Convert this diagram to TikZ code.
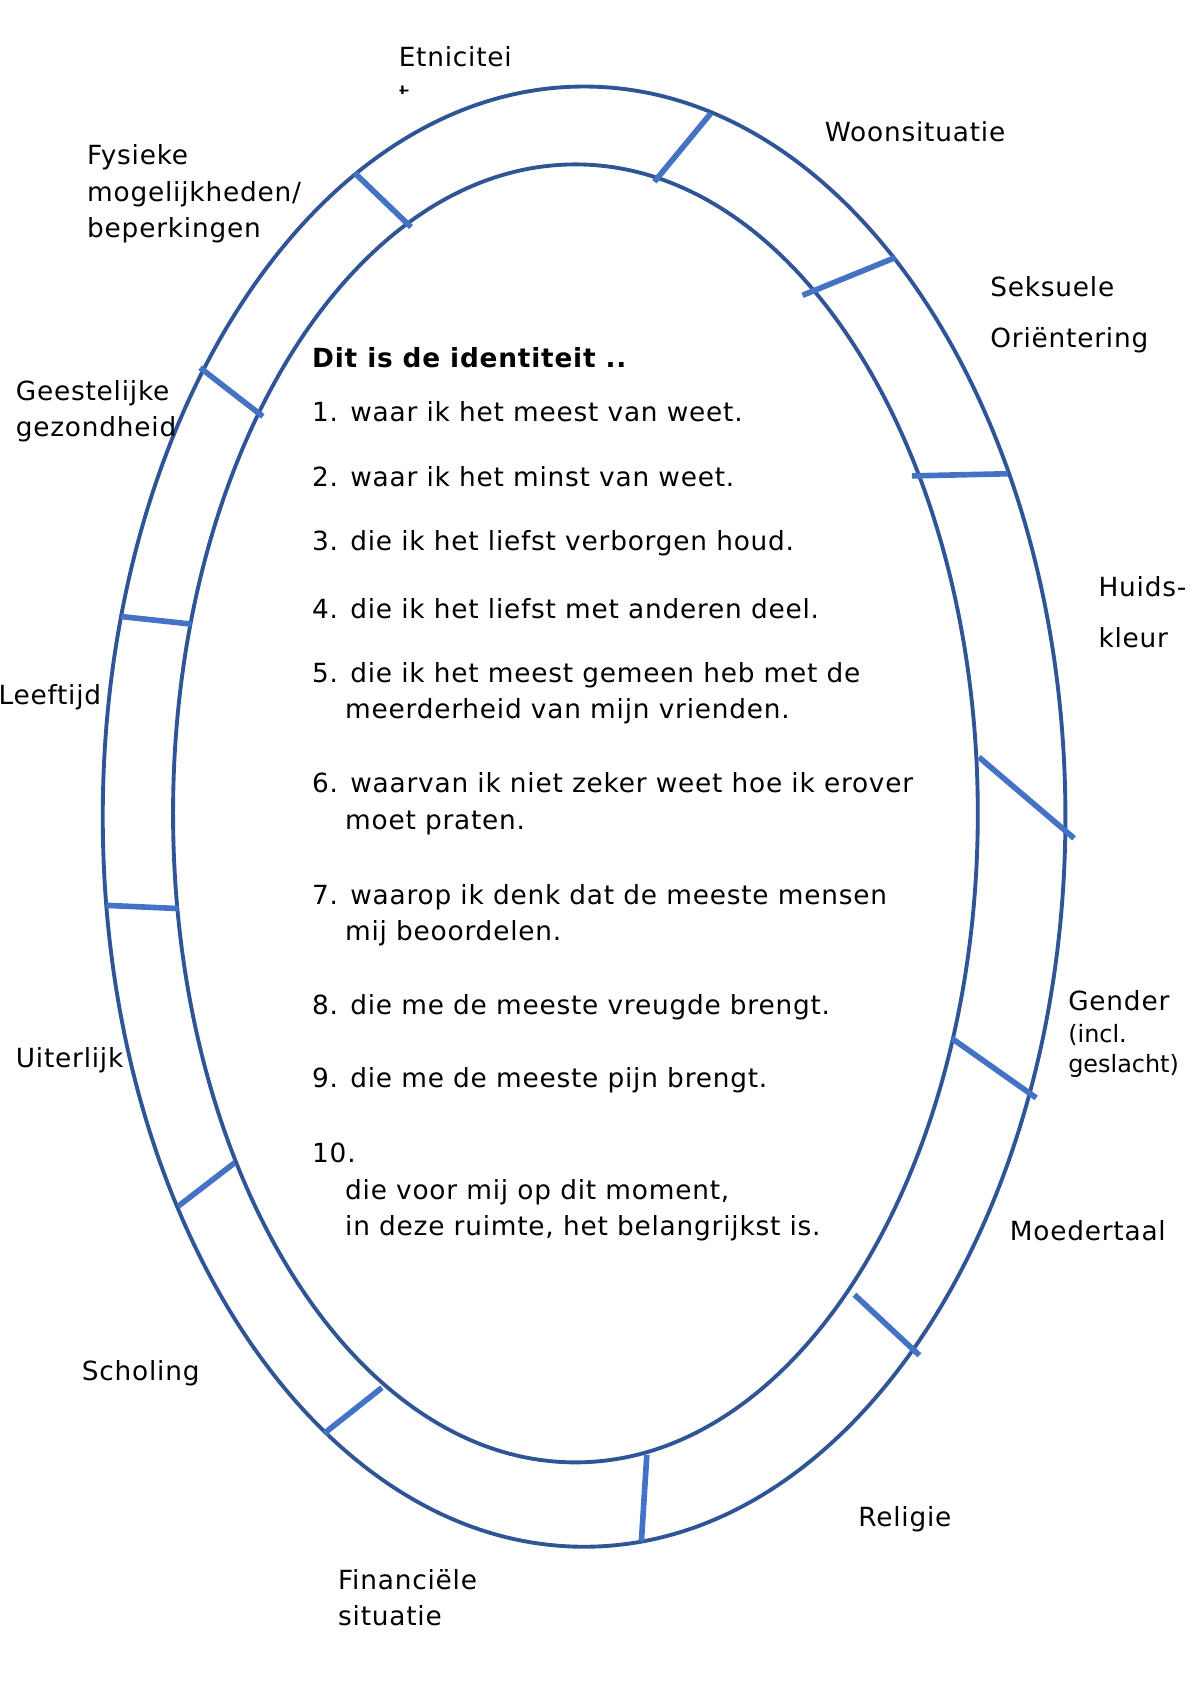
\documentclass[tikz,border=0pt]{standalone}
\usepackage{fontspec}
\setmainfont{DejaVu Sans}[LetterSpace=3]
\definecolor{ringblue}{HTML}{2F5597}
\definecolor{tickblue}{HTML}{4472C4}
\tikzset{
  ring/.style={draw=ringblue, line width=1.1pt},
  tick/.style={draw=tickblue, line width=1.6pt},
  lbl/.style={anchor=west, inner sep=0pt, font=\fontsize{7.5}{10.4}\selectfont},
  item/.style={anchor=west, inner sep=0pt, align=left, font=\fontsize{7.5}{10.4}\selectfont}
}
\begin{document}
\begin{tikzpicture}[x=0.01082cm, y=-0.01082cm]
\useasboundingbox (0,0) rectangle (1109,1568);
% rings
\draw[ring] (540,755) ellipse [x radius=445, y radius=675];
\draw[ring] (532,752) ellipse [x radius=372, y radius=600];
% dividers
\foreach \a/\b/\c/\d in {605/168/657/105, 742/273/828/238, 843/440/932/438,
  905/700/993/775, 880/960/958/1015, 790/1197/850/1253, 598/1345/593/1425,
  353/1283/300/1325, 217/1075/165/1115, 165/840/98/837, 177/577/112/570,
  243/385/185/340, 380/210/328/160}
  \draw[tick] (\a,\b) -- (\c,\d);
% outer labels
\node[lbl] (etn) at (368,52) {Etnicitei};
\begin{scope}
\clip (360,76) rectangle (390,86);
\node[lbl] (etnt) at (368,88) {t};
\end{scope}
\node[lbl] (woon) at (762,122) {Woonsituatie};
\node[lbl] (seks) at (915,265) {Seksuele};
\node[lbl] (orie) at (915,315) {Oriëntering};
\node[lbl] (huid) at (1015,542) {Huids-};
\node[lbl] (kleur) at (1015,590) {kleur};
\node[lbl] (gend) at (987,925) {Gender};
\node[lbl, font=\fontsize{6.8}{8.6}\selectfont\addfontfeature{LetterSpace=0}, align=left, anchor=north west] (incl) at (987,946) {(incl.\\geslacht)};
\node[lbl] (moed) at (933,1138) {Moedertaal};
\node[lbl] (reli) at (793,1405) {Religie};
\node[lbl, align=left, anchor=north west] (fin) at (312,1450) {Financiële\\situatie};
\node[lbl] (schol) at (75,1270) {Scholing};
\node[lbl] (uit) at (14,980) {Uiterlijk};
\node[lbl] (leef) at (-2,645) {Leeftijd};
\node[lbl, align=left, anchor=north west] (gees) at (14,351) {Geestelijke\\gezondheid};
\node[lbl, align=left, anchor=north west] (fys) at (80,133) {Fysieke\\mogelijkheden/\\beperkingen};
% inner list
\node[item, font=\bfseries\fontsize{7.5}{10.4}\selectfont] (titel) at (288,331) {Dit is de identiteit ..};
\node[item] (i1) at (288,381) {1. waar ik het meest van weet.};
\node[item] (i2) at (288,441) {2. waar ik het minst van weet.};
\node[item] (i3) at (288,502) {3. die ik het liefst verborgen houd.};
\node[item] (i4) at (288,563) {4. die ik het liefst met anderen deel.};
\node[item] (i5) at (288,641) {5. die ik het meest gemeen heb met de\\\hspace*{1.25em}meerderheid van mijn vrienden.};
\node[item] (i6) at (288,743) {6. waarvan ik niet zeker weet hoe ik erover\\\hspace*{1.25em}moet praten.};
\node[item] (i7) at (288,846) {7. waarop ik denk dat de meeste mensen\\\hspace*{1.25em}mij beoordelen.};
\node[item] (i8) at (288,931) {8. die me de meeste vreugde brengt.};
\node[item] (i9) at (288,999) {9. die me de meeste pijn brengt.};
\node[item] (i10) at (288,1102) {10.\\\hspace*{1.25em}die voor mij op dit moment,\\\hspace*{1.25em}in deze ruimte, het belangrijkst is.};
\end{tikzpicture}
\end{document}
